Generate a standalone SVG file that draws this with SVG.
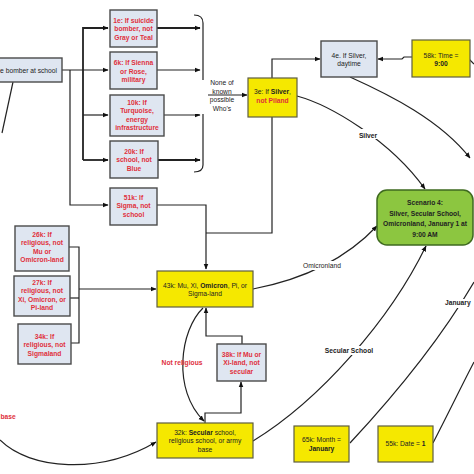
<svg xmlns="http://www.w3.org/2000/svg" width="474" height="474" viewBox="0 0 474 474">
<style>
.blue{fill:#dfe6f1;stroke:#4a4a4a;stroke-width:1.4}
.yel{fill:#f5e800;stroke:#5e5e40;stroke-width:1.2}
.grn{fill:#8cc640;stroke:#3e6a1f;stroke-width:1.5}
.c{fill:none;stroke:#222;stroke-width:1.2}
.ct{fill:none;stroke:#222;stroke-width:1.8}
text{font-family:"Liberation Sans",Arial,sans-serif;font-size:6.7px;text-anchor:middle}
.r{fill:#e0303c;font-weight:bold}
.d{fill:#222}
.b{font-weight:bold}
.lbl{fill:#fff}
</style>
<defs>
<marker id="a" viewBox="0 0 10 10" refX="9" refY="5" markerWidth="6" markerHeight="6" orient="auto" markerUnits="userSpaceOnUse">
<path d="M0,1 L10,5 L0,9 z" fill="#111"/>
</marker>
</defs>
<rect width="474" height="474" fill="#fff"/>
<g id="connectors">
<path class="c" d="M62,70 H108" marker-end="url(#a)"/>
<path class="ct" d="M83,160 V28 H108" marker-end="url(#a)"/>
<path class="c" d="M83,115 H108" marker-end="url(#a)"/>
<path class="ct" d="M83,160 H108" marker-end="url(#a)"/>
<path class="c" d="M70,70 V205 H108" marker-end="url(#a)"/>
<path class="c" d="M13,82 L2,133"/>
<path class="ct" d="M157,28 H200" marker-end="url(#a)"/>
<path class="c" d="M157,70 H200" marker-end="url(#a)"/>
<path class="c" d="M164,115 H200" marker-end="url(#a)"/>
<path class="ct" d="M158,160 H200" marker-end="url(#a)"/>
<path class="c" d="M194,15 Q203,15 203,23 V89 Q203,95 208,95 Q203,95 203,101 V165 Q203,172 194,172"/>
<path class="c" d="M272,80 V59 H320" marker-end="url(#a)"/>
<path class="c" d="M412,57 H404 L402,59 H378" marker-end="url(#a)"/>
<path class="c" d="M468,58 L474,64"/>
<path class="c" d="M157,205 H206 V269" marker-end="url(#a)"/>
<path class="c" d="M272,117 V233 H206"/>
<path class="c" d="M69,247 H79 V343 H71"/>
<path class="c" d="M70,298 H79"/>
<path class="c" d="M79,289 H156" marker-end="url(#a)"/>
<path class="c" d="M205,423 V413 H241 V382" marker-end="url(#a)"/>
<path class="c" d="M242,344 V336 H206 V308" marker-end="url(#a)"/>
<path class="c" d="M203,308 C180,330 172,390 204,421" marker-end="url(#a)"/>
<path class="c" d="M0,440 C30,470 100,475 156,442" marker-end="url(#a)"/>
<path class="c" d="M297,96 C330,105 390,140 425,189" marker-end="url(#a)"/>
<path class="c" d="M350,77 C390,95 440,120 470,158" marker-end="url(#a)"/>
<path class="c" d="M253,289 C300,280 345,260 377,226" marker-end="url(#a)"/>
<path class="c" d="M253,441 C320,400 390,320 426,246" marker-end="url(#a)"/>
<path class="c" d="M350,443 C390,400 440,340 474,282"/>
<path class="c" d="M433,443 C450,410 462,385 474,362"/>
<rect class="lbl" x="354" y="129" width="28" height="10"/>
<text class="d b" x="368" y="137.5">Silver</text>
<rect class="lbl" x="301" y="261" width="42" height="9"/>
<text class="d" x="322" y="267.5">Omicronland</text>
<rect class="lbl" x="324" y="346" width="50" height="9"/>
<text class="d b" x="349" y="352.5">Secular School</text>
<rect class="lbl" x="444" y="299" width="30" height="9"/>
<text class="d b" x="445" y="305" style="text-anchor:start">January</text>
<rect class="lbl" x="187" y="80" width="40" height="34"/>
<text class="d" x="222" y="85">None of</text>
<text class="d" x="222" y="93.5">known</text>
<text class="d" x="222" y="102">possible</text>
<text class="d" x="222" y="110.5">Who's</text>
<path class="c" d="M208,95 H247" marker-end="url(#a)"/>
<text class="r" x="0.5" y="419" style="text-anchor:start">base</text>
<text class="r" x="182" y="364.5">Not religious</text>
</g>
<g id="n-bomber">
<rect class="blue" x="-5" y="58" width="67" height="24"/>
<text class="d" x="57" y="72.5" style="text-anchor:end">e bomber at school</text>
</g>
<g id="n-1e">
<rect class="blue" x="110" y="10" width="47" height="37"/>
<text class="r" x="133.5" y="22.5">1e: If suicide</text>
<text class="r" x="133.5" y="31">bomber, not</text>
<text class="r" x="133.5" y="39.5">Gray or Teal</text>
</g>
<g id="n-6k">
<rect class="blue" x="110" y="52" width="47" height="37"/>
<text class="r" x="133.5" y="65">6k: If Sienna</text>
<text class="r" x="133.5" y="73.5">or Rose,</text>
<text class="r" x="133.5" y="82">military</text>
</g>
<g id="n-10k">
<rect class="blue" x="110" y="95" width="54" height="41"/>
<text class="r" x="137" y="104.5">10k: If</text>
<text class="r" x="137" y="113">Turquoise,</text>
<text class="r" x="137" y="121.5">energy</text>
<text class="r" x="137" y="130">infrastructure</text>
</g>
<g id="n-20k">
<rect class="blue" x="110" y="141" width="48" height="37"/>
<text class="r" x="134" y="153.5">20k: If</text>
<text class="r" x="134" y="162">school, not</text>
<text class="r" x="134" y="170.5">Blue</text>
</g>
<g id="n-51k">
<rect class="blue" x="110" y="188" width="47" height="37"/>
<text class="r" x="133.5" y="199.5">51k: If</text>
<text class="r" x="133.5" y="208">Sigma, not</text>
<text class="r" x="133.5" y="216.5">school</text>
</g>
<g id="n-3e">
<rect class="yel" x="248" y="78" width="49" height="39"/>
<text class="d" x="272.5" y="94">3e: If <tspan class="b">Silver</tspan>,</text>
<text class="r" x="272.5" y="102.5">not Piland</text>
</g>
<g id="n-4e">
<rect class="blue" x="321" y="41" width="56" height="36"/>
<text class="d" x="349" y="57.5">4e. If Silver,</text>
<text class="d" x="349" y="66">daytime</text>
</g>
<g id="n-58k">
<rect class="yel" x="412" y="40" width="58" height="37"/>
<text class="d" x="441" y="57.5">58k: Time =</text>
<text class="d b" x="441" y="66">9:00</text>
</g>
<g id="n-scenario4">
<rect class="grn" x="377" y="190" width="96" height="55" rx="10"/>
<text class="d b" x="425" y="205">Scenario 4:</text>
<text class="d b" x="425" y="215.5">Silver, Secular School,</text>
<text class="d b" x="425" y="226">Omicronland, January 1 at</text>
<text class="d b" x="425" y="236.5">9:00 AM</text>
</g>
<g id="n-26k">
<rect class="blue" x="15" y="226" width="54" height="45"/>
<text class="r" x="42" y="236.5">26k: If</text>
<text class="r" x="42" y="245">religious, not</text>
<text class="r" x="42" y="253.5">Mu or</text>
<text class="r" x="42" y="262">Omicron-land</text>
</g>
<g id="n-27k">
<rect class="blue" x="14" y="276" width="56" height="40"/>
<text class="r" x="42" y="284.5">27k: If</text>
<text class="r" x="42" y="293">religious, not</text>
<text class="r" x="42" y="301.5">Xi, Omicron, or</text>
<text class="r" x="42" y="310">Pi-land</text>
</g>
<g id="n-34k">
<rect class="blue" x="18" y="324" width="53" height="40"/>
<text class="r" x="44.5" y="338.5">34k: If</text>
<text class="r" x="44.5" y="347">religious, not</text>
<text class="r" x="44.5" y="355.5">Sigmaland</text>
</g>
<g id="n-43k">
<rect class="yel" x="157" y="271" width="96" height="36"/>
<text class="d" x="205" y="287.5">43k: Mu, Xi, <tspan class="b">Omicron</tspan>, Pi, or</text>
<text class="d" x="205" y="296">Sigma-land</text>
</g>
<g id="n-38k">
<rect class="blue" x="217" y="344" width="49" height="37"/>
<text class="r" x="241.5" y="356.5">38k: If Mu or</text>
<text class="r" x="241.5" y="365">Xi-land, not</text>
<text class="r" x="241.5" y="373.5">secular</text>
</g>
<g id="n-32k">
<rect class="yel" x="157" y="423" width="96" height="35"/>
<text class="d" x="205" y="434.5">32k: <tspan class="b">Secular</tspan> school,</text>
<text class="d" x="205" y="443">religious school, or army</text>
<text class="d" x="205" y="451.5">base</text>
</g>
<g id="n-65k">
<rect class="yel" x="294" y="426" width="55" height="36"/>
<text class="d" x="321.5" y="442">65k: Month =</text>
<text class="d b" x="321.5" y="451">January</text>
</g>
<g id="n-55k">
<rect class="yel" x="378" y="426" width="55" height="36"/>
<text class="d" x="405.5" y="446">55k: Date = <tspan class="b">1</tspan></text>
</g>
</svg>
